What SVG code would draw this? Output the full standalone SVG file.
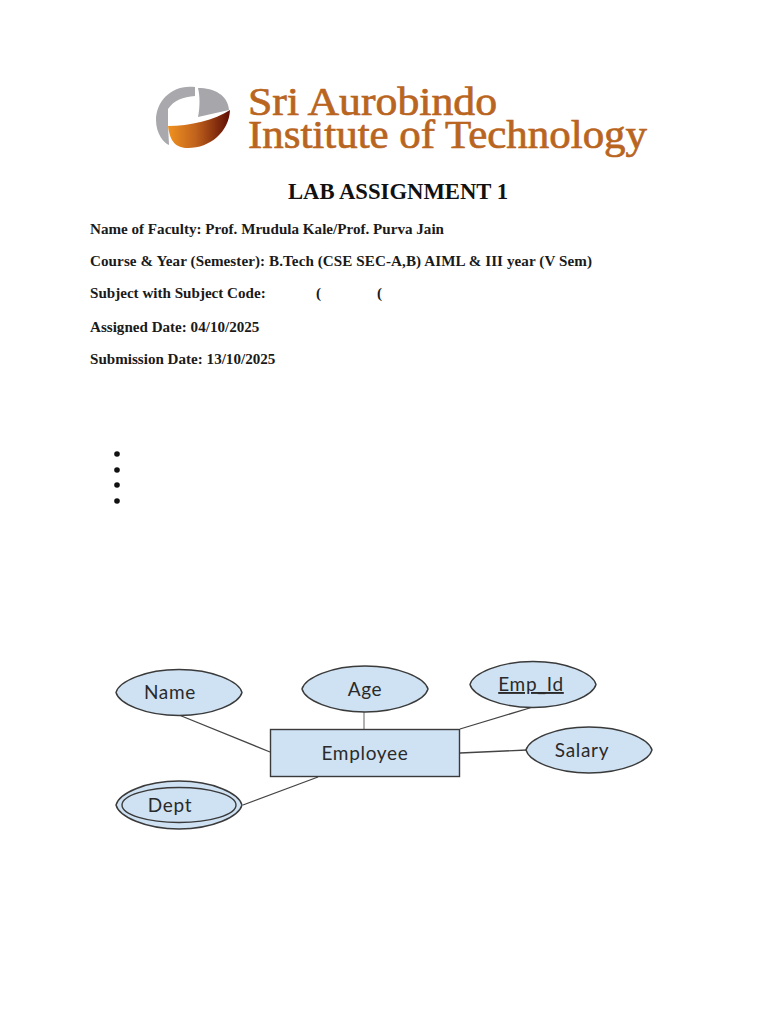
<svg xmlns="http://www.w3.org/2000/svg" width="768" height="1024" viewBox="0 0 768 1024">
<style>
.d{font:bold 15.1px "Liberation Serif",serif;fill:#1a1a1a}
.l{font-family:"Liberation Serif",serif;font-size:41px;fill:#b9651f;stroke:#b9651f;stroke-width:.7}
.e{fill:#cfe2f3;stroke:#3a3a3a;stroke-width:1.4}
.t{font:19px Lato,"Noto Sans",sans-serif;fill:#2a2a2a;text-anchor:middle;letter-spacing:.7px}
.c{stroke:#444;stroke-width:1.3;fill:none}
</style>
<defs>
<linearGradient id="g" x1="0" x2="1" y1="0" y2="0"><stop offset="0" stop-color="#f0921f"/><stop offset=".45" stop-color="#c0621c"/><stop offset="1" stop-color="#5e0c04"/></linearGradient>
<path id="lens" d="M-63 0C-60 -11 -34 -23 0 -23C34 -23 60 -11 63 0C60 11 34 23 0 23C-34 23 -60 11 -63 0Z"/>
</defs>
<rect width="768" height="1024" fill="#fff"/>
<g id="logo">
<path d="M195 87C172 84 156 101 156 120C156 134 164 143 169 145L168 125L168 109C174 100 183 97 195 96Z" fill="#a9a9ad"/>
<path d="M198 88C214 88 228 95 229 110L198 117C200 107 200 96 198 88Z" fill="#a6a6ab"/>
<path d="M168 126C190 126 215 120 230 110C229 132 210 148 188 148C176 148 170 142 168 126Z" fill="url(#g)"/>
<text class="l" x="248" y="115" textLength="249" lengthAdjust="spacingAndGlyphs">Sri Aurobindo</text>
<text class="l" x="248" y="148" textLength="399" lengthAdjust="spacingAndGlyphs">Institute of Technology</text>
</g>
<g id="header">
<text x="398" y="199" text-anchor="middle" style="font:bold 22.7px 'Liberation Serif',serif;fill:#111">LAB ASSIGNMENT 1</text>
<text class="d" x="90" y="234" textLength="354">Name of Faculty: Prof. Mrudula Kale/Prof. Purva Jain</text>
<text class="d" x="90" y="266" textLength="502">Course &amp; Year (Semester): B.Tech (CSE SEC-A,B) AIML &amp; III year (V Sem)</text>
<text class="d" x="90" y="298">Subject with Subject Code:</text>
<text class="d" x="316" y="298">(</text>
<text class="d" x="377" y="298">(</text>
<text class="d" x="90" y="332">Assigned Date: 04/10/2025</text>
<text class="d" x="90" y="364">Submission Date: 13/10/2025</text>
</g>
<g id="bullets" fill="#111">
<circle cx="117" cy="454" r="2.8"/><circle cx="117" cy="470" r="2.8"/><circle cx="117" cy="485" r="2.8"/><circle cx="117" cy="501" r="2.8"/>
</g>
<g id="connectors">
<path class="c" d="M179 715L270 752"/>
<path d="M364 712V729" fill="none" stroke="#888" stroke-width="1.3"/>
<path class="c" d="M533 707L460 729"/>
<path class="c" d="M460 753L527 750"/>
<path class="c" d="M243 805L318 777"/>
</g>
<g id="employee">
<rect x="270.500" y="729.500" width="189" height="47" class="e"/>
<text class="t" x="365" y="760">Employee</text>
</g>
<g id="name">
<use href="#lens" class="e" transform="translate(179 692.500)"/>
<text class="t" x="170" y="699">Name</text>
</g>
<g id="age">
<use href="#lens" class="e" transform="translate(365 689)"/>
<text class="t" x="365" y="696">Age</text>
</g>
<g id="emp_id">
<use href="#lens" class="e" transform="translate(533 684.500)"/>
<text class="t" x="531" y="691" text-decoration="underline">Emp_Id</text>
</g>
<g id="salary">
<use href="#lens" class="e" transform="translate(589 750)"/>
<text class="t" x="582" y="757">Salary</text>
</g>
<g id="dept">
<use href="#lens" class="e" transform="translate(179 805) scale(1 1.04)"/>
<ellipse class="e" cx="179" cy="805" rx="57" ry="17.500"/>
<text class="t" x="170" y="812">Dept</text>
</g>
</svg>
